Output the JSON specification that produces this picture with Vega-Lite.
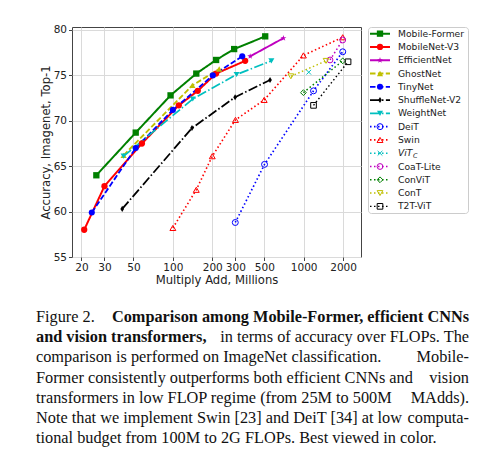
{
  "$schema": "https://vega.github.io/schema/vega-lite/v6.json",
  "background": "white",
  "padding": {"left": 36, "top": 22, "right": 0, "bottom": 0},
  "config": {
    "font": "DejaVu Sans",
    "view": {"stroke": null},
    "axis": {
      "domain": false,
      "tickColor": "#444",
      "tickSize": 3.5,
      "labelFontSize": 10.5,
      "labelColor": "#222",
      "labelPadding": 2,
      "titleFontSize": 11.6,
      "titleFontWeight": "normal",
      "titleColor": "#222",
      "gridColor": "#dadada",
      "gridWidth": 1
    }
  },
  "datasets": {
    "pts": [
      {"model": "Mobile-Former", "macs": 26, "acc": 64.0},
      {"model": "Mobile-Former", "macs": 52, "acc": 68.7},
      {"model": "Mobile-Former", "macs": 96, "acc": 72.8},
      {"model": "Mobile-Former", "macs": 151, "acc": 75.2},
      {"model": "Mobile-Former", "macs": 214, "acc": 76.7},
      {"model": "Mobile-Former", "macs": 294, "acc": 77.9},
      {"model": "Mobile-Former", "macs": 508, "acc": 79.3},
      {"model": "MobileNet-V3", "macs": 21, "acc": 58.0},
      {"model": "MobileNet-V3", "macs": 30, "acc": 62.8},
      {"model": "MobileNet-V3", "macs": 58, "acc": 67.5},
      {"model": "MobileNet-V3", "macs": 111, "acc": 71.7},
      {"model": "MobileNet-V3", "macs": 155, "acc": 73.3},
      {"model": "MobileNet-V3", "macs": 214, "acc": 75.2},
      {"model": "MobileNet-V3", "macs": 357, "acc": 76.6},
      {"model": "EfficientNet", "macs": 390, "acc": 77.1},
      {"model": "EfficientNet", "macs": 700, "acc": 79.1},
      {"model": "GhostNet", "macs": 42, "acc": 66.2},
      {"model": "GhostNet", "macs": 141, "acc": 73.9},
      {"model": "GhostNet", "macs": 226, "acc": 75.7},
      {"model": "TinyNet", "macs": 24, "acc": 59.9},
      {"model": "TinyNet", "macs": 52, "acc": 67.0},
      {"model": "TinyNet", "macs": 100, "acc": 71.2},
      {"model": "TinyNet", "macs": 202, "acc": 75.0},
      {"model": "TinyNet", "macs": 339, "acc": 77.1},
      {"model": "ShuffleNet-V2", "macs": 41, "acc": 60.3},
      {"model": "ShuffleNet-V2", "macs": 140, "acc": 69.2},
      {"model": "ShuffleNet-V2", "macs": 299, "acc": 72.6},
      {"model": "ShuffleNet-V2", "macs": 553, "acc": 74.5},
      {"model": "WeightNet", "macs": 42, "acc": 66.1},
      {"model": "WeightNet", "macs": 142, "acc": 72.4},
      {"model": "WeightNet", "macs": 307, "acc": 75.1},
      {"model": "WeightNet", "macs": 566, "acc": 76.6},
      {"model": "DeiT", "macs": 300, "acc": 58.8},
      {"model": "DeiT", "macs": 502, "acc": 65.2},
      {"model": "DeiT", "macs": 1189, "acc": 73.3},
      {"model": "DeiT", "macs": 1988, "acc": 77.6},
      {"model": "Swin", "macs": 100, "acc": 58.2},
      {"model": "Swin", "macs": 151, "acc": 62.4},
      {"model": "Swin", "macs": 200, "acc": 66.1},
      {"model": "Swin", "macs": 301, "acc": 70.1},
      {"model": "Swin", "macs": 499, "acc": 72.3},
      {"model": "Swin", "macs": 995, "acc": 77.2},
      {"model": "Swin", "macs": 1988, "acc": 79.2},
      {"model": "ViTC", "macs": 1093, "acc": 75.35},
      {"model": "CoaT-Lite", "macs": 1589, "acc": 76.7},
      {"model": "CoaT-Lite", "macs": 1988, "acc": 78.9},
      {"model": "ConViT", "macs": 995, "acc": 73.1},
      {"model": "ConViT", "macs": 1988, "acc": 76.6},
      {"model": "ConT", "macs": 798, "acc": 74.9},
      {"model": "ConT", "macs": 1482, "acc": 76.6},
      {"model": "T2T-ViT", "macs": 1189, "acc": 71.7},
      {"model": "T2T-ViT", "macs": 2183, "acc": 76.5}
    ],
    "legend": [
      {"model": "Mobile-Former"},
      {"model": "MobileNet-V3"},
      {"model": "EfficientNet"},
      {"model": "GhostNet"},
      {"model": "TinyNet"},
      {"model": "ShuffleNet-V2"},
      {"model": "WeightNet"},
      {"model": "DeiT"},
      {"model": "Swin"},
      {"model": "ViTC"},
      {"model": "CoaT-Lite"},
      {"model": "ConViT"},
      {"model": "ConT"},
      {"model": "T2T-ViT"}
    ],
    "capLeft": [
      {"line": 1, "text": "Figure 2."},
      {"line": 3, "text": "comparison is performed on ImageNet classification."},
      {"line": 4, "text": "Former consistently outperforms both efficient CNNs and"},
      {"line": 5, "text": "transformers in low FLOP regime (from 25M to 500M"},
      {"line": 6, "text": "Note that we implement Swin [23] and DeiT [34] at low"},
      {"line": 7, "text": "tional budget from 100M to 2G FLOPs. Best viewed in color."}
    ],
    "capRight": [
      {"line": 2, "text": "in terms of accuracy over FLOPs. The"},
      {"line": 3, "text": "Mobile-"},
      {"line": 4, "text": "vision"},
      {"line": 5, "text": "MAdds)."},
      {"line": 6, "text": "computa-"}
    ],
    "capBoldLeft": [
      {"line": 2, "text": "and vision transformers,"}
    ],
    "capBoldRight": [
      {"line": 1, "text": "Comparison among Mobile-Former, efficient CNNs"}
    ]
  },
  "resolve": {"scale": {"x": "independent", "y": "independent"}},
  "spacing": 22,
  "vconcat": [
    {
      "spacing": 5,
      "resolve": {"scale": {"x": "independent", "y": "independent"}},
      "hconcat": [
        {
          "width": 289,
          "height": 230,
          "view": {"stroke": "#444", "strokeWidth": 1},
          "data": {"name": "pts"},
          "encoding": {
            "x": {
              "field": "macs",
              "type": "quantitative",
              "scale": {"type": "log", "domain": [16.94, 2742], "nice": false},
              "axis": {"values": [20, 30, 50, 100, 200, 300, 500, 1000, 2000], "format": "d", "title": "Multiply Add, Millions", "grid": true, "titlePadding": 1}
            },
            "y": {
              "field": "acc",
              "type": "quantitative",
              "scale": {"domain": [55, 80.33], "nice": false, "zero": false},
              "axis": {"values": [55, 60, 65, 70, 75, 80], "title": "Accuracy, Imagenet, Top-1", "grid": true, "titlePadding": 2}
            },
            "color": {
              "field": "model",
              "type": "nominal",
              "legend": null,
              "scale": {
                "domain": ["Mobile-Former", "MobileNet-V3", "EfficientNet", "GhostNet", "TinyNet", "ShuffleNet-V2", "WeightNet", "DeiT", "Swin", "ViTC", "CoaT-Lite", "ConViT", "ConT", "T2T-ViT"],
                "range": ["#008000", "#ff0000", "#bf00bf", "#bfbf00", "#0000ff", "#000000", "#00bfbf", "#0000ff", "#ff0000", "#00bfbf", "#bf00bf", "#008000", "#bfbf00", "#000000"]
              }
            }
          },
          "layer": [
            {
              "mark": {"type": "line", "clip": true},
              "encoding": {
                "strokeDash": {
                  "field": "model",
                  "type": "nominal",
                  "legend": null,
                  "scale": {
                    "domain": ["Mobile-Former", "MobileNet-V3", "EfficientNet", "GhostNet", "TinyNet", "ShuffleNet-V2", "WeightNet", "DeiT", "Swin", "ViTC", "CoaT-Lite", "ConViT", "ConT", "T2T-ViT"],
                    "range": [[1, 0], [1, 0], [1, 0], [5.5, 2.4], [5.5, 2.4], [9.6, 2.4, 1.5, 2.4], [9.6, 2.4, 1.5, 2.4], [1.5, 2.5], [1.5, 2.5], [1.5, 2.5], [1.5, 2.5], [1.5, 2.5], [1.5, 2.5], [1.5, 2.5]]
                  }
                },
                "strokeWidth": {
                  "field": "model",
                  "type": "nominal",
                  "legend": null,
                  "scale": {
                    "domain": ["Mobile-Former", "MobileNet-V3", "EfficientNet", "GhostNet", "TinyNet", "ShuffleNet-V2", "WeightNet", "DeiT", "Swin", "ViTC", "CoaT-Lite", "ConViT", "ConT", "T2T-ViT"],
                    "range": [2, 1.4, 1.4, 1.4, 1.4, 1.4, 1.4, 1.3, 1.3, 1.3, 1.3, 1.3, 1.3, 1.3]
                  }
                }
              }
            },
            {
              "transform": [{"filter": {"field": "model", "oneOf": ["Mobile-Former", "MobileNet-V3", "EfficientNet", "GhostNet", "TinyNet", "ShuffleNet-V2", "WeightNet"]}}],
              "mark": {"type": "point", "filled": true, "opacity": 1, "clip": true},
              "encoding": {
                "shape": {
                  "field": "model",
                  "type": "nominal",
                  "legend": null,
                  "scale": {
                    "domain": ["Mobile-Former", "MobileNet-V3", "EfficientNet", "GhostNet", "TinyNet", "ShuffleNet-V2", "WeightNet", "DeiT", "Swin", "ViTC", "CoaT-Lite", "ConViT", "ConT", "T2T-ViT"],
                    "range": ["square", "circle", "M0,-1L0.2245,-0.309L0.951,-0.309L0.363,0.118L0.588,0.809L0,0.382L-0.588,0.809L-0.363,0.118L-0.951,-0.309L-0.2245,-0.309Z", "triangle-up", "circle", "M0,-1L0.6,0L0,1L-0.6,0Z", "triangle-down", "circle", "triangle-up", "M-0.8,-0.8L0.8,0.8M-0.8,0.8L0.8,-0.8", "circle", "diamond", "triangle-down", "square"]
                  }
                },
                "size": {
                  "field": "model",
                  "type": "nominal",
                  "legend": null,
                  "scale": {
                    "domain": ["Mobile-Former", "MobileNet-V3", "EfficientNet", "GhostNet", "TinyNet", "ShuffleNet-V2", "WeightNet", "DeiT", "Swin", "ViTC", "CoaT-Lite", "ConViT", "ConT", "T2T-ViT"],
                    "range": [40, 32, 80, 45, 32, 60, 45, 32, 40, 36, 32, 45, 40, 36]
                  }
                }
              }
            },
            {
              "transform": [{"filter": {"field": "model", "oneOf": ["DeiT", "Swin", "ViTC", "CoaT-Lite", "ConViT", "ConT", "T2T-ViT"]}}],
              "mark": {"type": "point", "filled": false, "opacity": 1, "strokeWidth": 1, "clip": true},
              "encoding": {
                "shape": {"field": "model", "type": "nominal", "legend": null},
                "size": {"field": "model", "type": "nominal", "legend": null}
              }
            }
          ]
        },
        {
          "width": 100,
          "height": 186,
          "title": {"text": " ", "fontSize": 4, "offset": 0},
          "view": {"stroke": "#cccccc", "cornerRadius": 3},
          "data": {"name": "legend"},
          "encoding": {
            "y": {"field": "model", "type": "nominal", "sort": null, "scale": {"type": "point", "padding": 0.5}, "axis": null},
            "color": {"field": "model", "type": "nominal", "legend": null}
          },
          "layer": [
            {
              "mark": {"type": "rule"},
              "encoding": {
                "x": {"datum": 2, "type": "quantitative", "scale": {"domain": [0, 100]}, "axis": null},
                "x2": {"datum": 22},
                "strokeDash": {"field": "model", "type": "nominal", "legend": null},
                "strokeWidth": {"field": "model", "type": "nominal", "legend": null}
              }
            },
            {
              "transform": [{"filter": {"field": "model", "oneOf": ["Mobile-Former", "MobileNet-V3", "EfficientNet", "GhostNet", "TinyNet", "ShuffleNet-V2", "WeightNet"]}}],
              "mark": {"type": "point", "filled": true, "opacity": 1},
              "encoding": {
                "x": {"datum": 12, "type": "quantitative"},
                "shape": {"field": "model", "type": "nominal", "legend": null},
                "size": {"field": "model", "type": "nominal", "legend": null}
              }
            },
            {
              "transform": [{"filter": {"field": "model", "oneOf": ["DeiT", "Swin", "ViTC", "CoaT-Lite", "ConViT", "ConT", "T2T-ViT"]}}],
              "mark": {"type": "point", "filled": false, "opacity": 1, "strokeWidth": 1},
              "encoding": {
                "x": {"datum": 12, "type": "quantitative"},
                "shape": {"field": "model", "type": "nominal", "legend": null},
                "size": {"field": "model", "type": "nominal", "legend": null}
              }
            },
            {
              "transform": [{"filter": "datum.model != 'ViTC'"}],
              "mark": {"type": "text", "align": "left", "baseline": "middle", "fontSize": 9.2},
              "encoding": {
                "x": {"datum": 30, "type": "quantitative"},
                "text": {"field": "model"},
                "color": {"value": "#222"}
              }
            },
            {
              "transform": [{"filter": "datum.model == 'ViTC'"}],
              "mark": {"type": "text", "align": "left", "baseline": "middle", "fontSize": 9.2, "fontStyle": "italic"},
              "encoding": {
                "x": {"datum": 30, "type": "quantitative"},
                "text": {"value": "ViT"},
                "color": {"value": "#222"}
              }
            },
            {
              "transform": [{"filter": "datum.model == 'ViTC'"}],
              "mark": {"type": "text", "align": "left", "baseline": "middle", "fontSize": 6.5, "fontStyle": "italic", "dx": 15, "dy": 3},
              "encoding": {
                "x": {"datum": 30, "type": "quantitative"},
                "text": {"value": "C"},
                "color": {"value": "#222"}
              }
            }
          ]
        }
      ]
    },
    {
      "width": 433,
      "height": 121,
      "encoding": {
        "y": {"field": "line", "type": "ordinal", "scale": {"type": "point", "padding": 0, "domain": [1, 2, 3, 4, 5, 6, 7]}, "axis": null}
      },
      "layer": [
        {
          "data": {"name": "capLeft"},
          "mark": {"type": "text", "align": "left", "baseline": "alphabetic", "font": "Liberation Serif", "fontSize": 16.3, "color": "#111"},
          "encoding": {
            "x": {"datum": 0, "type": "quantitative", "scale": {"domain": [0, 1], "range": [-36, 397]}, "axis": null},
            "text": {"field": "text"}
          }
        },
        {
          "data": {"name": "capRight"},
          "mark": {"type": "text", "align": "right", "baseline": "alphabetic", "font": "Liberation Serif", "fontSize": 16.3, "color": "#111"},
          "encoding": {
            "x": {"datum": 1, "type": "quantitative"},
            "text": {"field": "text"}
          }
        },
        {
          "data": {"name": "capBoldLeft"},
          "mark": {"type": "text", "align": "left", "baseline": "alphabetic", "font": "Liberation Serif", "fontSize": 16.3, "fontWeight": "bold", "color": "#111"},
          "encoding": {
            "x": {"datum": 0, "type": "quantitative"},
            "text": {"field": "text"}
          }
        },
        {
          "data": {"name": "capBoldRight"},
          "mark": {"type": "text", "align": "right", "baseline": "alphabetic", "font": "Liberation Serif", "fontSize": 16.3, "fontWeight": "bold", "color": "#111"},
          "encoding": {
            "x": {"datum": 1, "type": "quantitative"},
            "text": {"field": "text"}
          }
        }
      ]
    }
  ]
}
